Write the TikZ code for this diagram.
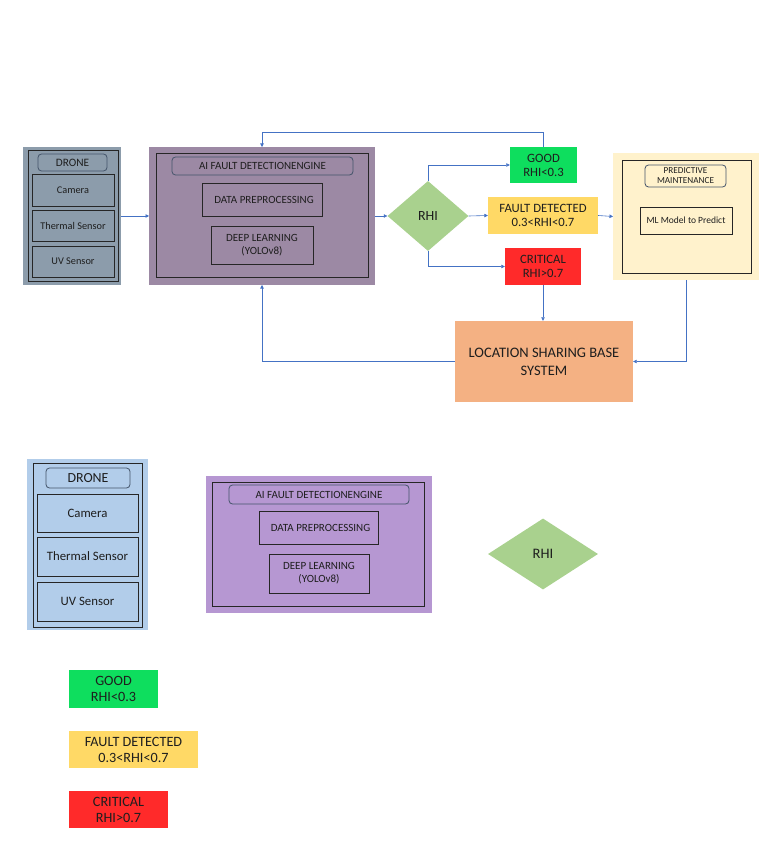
\documentclass[tikz,border=0pt]{standalone}
\usepackage{fontspec}
\setmainfont{Carlito}
\usetikzlibrary{shapes.geometric,arrows.meta}
\definecolor{txt}{HTML}{1E1E1E}
\definecolor{droneT}{RGB}{140,156,171}
\definecolor{aiT}{RGB}{156,137,164}
\definecolor{droneB}{RGB}{178,205,234}
\definecolor{aiB}{RGB}{182,151,210}
\definecolor{rhig}{HTML}{A9D18E}
\definecolor{goodg}{RGB}{14,222,94}
\definecolor{faulty}{HTML}{FFD966}
\definecolor{critr}{RGB}{255,42,42}
\definecolor{pmy}{HTML}{FFF2CC}
\definecolor{loco}{HTML}{F4B183}
\definecolor{arr}{HTML}{4472C4}
\definecolor{lblb}{HTML}{44546A}
\tikzset{
  panel/.style={draw=none, inner sep=0pt, outer sep=0pt},
  inbox/.style={draw=black!85, line width=0.9pt, inner sep=0pt, outer sep=0pt, align=center, text=txt},
  rlabel/.style={draw=lblb, line width=0.8pt, rounded corners=3.5pt, inner sep=0pt, align=center, text=txt},
  sbox/.style={draw=none, inner sep=0pt, align=center, text=txt},
  conn/.style={draw=arr, line width=0.6pt, -{Triangle[length=3.5pt,width=3.5pt]}},
}
\begin{document}
\begin{tikzpicture}[x=1pt,y=-1pt]
\useasboundingbox (0,0) rectangle (768,866);
% ===== top drone =====
\node[panel, fill=droneT, minimum width=98, minimum height=138] (dTo) at (72,216) {};
\node[inbox, minimum width=90, minimum height=131] (dTi) at (73,215.5) {};
\node[rlabel, minimum width=69, minimum height=17, font=\fontsize{11.3}{12}\selectfont] (dTl) at (72.5,162.5) {DRONE};
\node[inbox, minimum width=82, minimum height=32, font=\fontsize{10.3}{11}\selectfont] (dTc) at (73,190) {Camera};
\node[inbox, minimum width=82, minimum height=31, font=\fontsize{10.3}{11}\selectfont] (dTt) at (73,225.5) {Thermal Sensor};
\node[inbox, minimum width=82, minimum height=31, font=\fontsize{10.3}{11}\selectfont] (dTu) at (73,261.5) {UV Sensor};
% ===== top AI =====
\node[panel, fill=aiT, minimum width=226, minimum height=138] (aTo) at (262,216) {};
\node[inbox, minimum width=212, minimum height=124] (aTi) at (262,215) {};
\node[rlabel, minimum width=181, minimum height=18, font=\fontsize{11}{12}\selectfont] (aTl) at (262.5,166) {AI FAULT DETECTIONENGINE};
\node[inbox, minimum width=120, minimum height=33, font=\fontsize{11}{12}\selectfont] (aTd) at (262,199.5) {\hspace{4pt}DATA PREPROCESSING};
\node[inbox, minimum width=102, minimum height=38, font=\fontsize{11}{13}\selectfont] (aTl2) at (262,245) {DEEP LEARNING\\(YOLOv8)};
% ===== RHI top =====
\node[diamond, fill=rhig, draw=none, inner sep=0pt, minimum width=81, minimum height=70, text=txt, font=\fontsize{14}{15}\selectfont] (rT) at (428,216) {RHI};
\node[sbox, fill=goodg, minimum width=67, minimum height=36, font=\fontsize{12.7}{14}\selectfont] (gT) at (543.5,165) {GOOD\\RHI<0.3};
\node[sbox, fill=faulty, minimum width=110, minimum height=37, font=\fontsize{12.7}{14}\selectfont] (fT) at (543,215.5) {FAULT DETECTED\\0.3<RHI<0.7};
\node[sbox, fill=critr, minimum width=76, minimum height=37, font=\fontsize{12.7}{14}\selectfont] (cT) at (543,266.5) {CRITICAL\\RHI>0.7};
% ===== predictive maintenance =====
\node[panel, fill=pmy, minimum width=146, minimum height=127] (pTo) at (686,216.5) {};
\node[inbox, minimum width=129, minimum height=113] (pTi) at (686.5,216.5) {};
\node[rlabel, minimum width=81, minimum height=22, font=\fontsize{9.2}{10}\selectfont] (pTl) at (685.5,176) {PREDICTIVE\\MAINTENANCE};
\node[inbox, minimum width=92, minimum height=27, font=\fontsize{9.5}{10}\selectfont] (pTm) at (686,220.5) {ML Model to Predict};
% ===== location =====
\node[sbox, fill=loco, minimum width=178, minimum height=81, font=\fontsize{14.5}{18}\selectfont] (lT) at (544,361.5) {LOCATION SHARING BASE\\SYSTEM};
% ===== connectors =====
\draw[conn] (dTo.east) -- (aTo.west);
\draw[conn] (aTo.east) -- (rT.west);
\draw[conn] (rT.north) |- (gT.west);
\draw[conn] (rT.east) -- (fT.west);
\draw[conn] (rT.south) |- (cT.west);
\draw[conn] (fT.east) -- (pTo.west);
\coordinate (gUp) at (543.5,132);
\draw[conn] (gT.north) -- (gUp) -| (aTo.north);
\draw[conn] (cT.south) -- (cT.south |- lT.north);
\draw[conn] (pTo.south) |- (lT.east);
\draw[conn] (lT.west) -| (aTo.south);
% ===== bottom drone =====
\node[panel, fill=droneB, minimum width=121, minimum height=171] (dBo) at (87.5,544.5) {};
\node[inbox, minimum width=109, minimum height=164] (dBi) at (87.5,545) {};
\node[rlabel, minimum width=84, minimum height=20, font=\fontsize{13.9}{14}\selectfont] (dBl) at (88,478) {DRONE};
\node[inbox, minimum width=101, minimum height=38, font=\fontsize{12.8}{14}\selectfont] (dBc) at (87.5,513) {Camera};
\node[inbox, minimum width=101, minimum height=39, font=\fontsize{12.8}{14}\selectfont] (dBt) at (87.5,556.5) {Thermal Sensor};
\node[inbox, minimum width=101, minimum height=39, font=\fontsize{12.8}{14}\selectfont] (dBu) at (87.5,601.5) {UV Sensor};
% ===== bottom AI =====
\node[panel, fill=aiB, minimum width=226, minimum height=137] (aBo) at (319,544.5) {};
\node[inbox, minimum width=212, minimum height=124] (aBi) at (318,544) {};
\node[rlabel, minimum width=180, minimum height=19, font=\fontsize{11}{12}\selectfont] (aBl) at (319,494.5) {AI FAULT DETECTIONENGINE};
\node[inbox, minimum width=119, minimum height=33, font=\fontsize{11}{12}\selectfont] (aBd) at (318.5,527.5) {\hspace{4pt}DATA PREPROCESSING};
\node[inbox, minimum width=100, minimum height=39, font=\fontsize{11}{13}\selectfont] (aBl2) at (319,573.5) {DEEP LEARNING\\(YOLOv8)};
% ===== RHI bottom =====
\node[diamond, fill=rhig, draw=none, inner sep=0pt, minimum width=110, minimum height=71, text=txt, font=\fontsize{14.5}{15}\selectfont] (rB) at (543,554) {RHI};
% ===== legend =====
\node[sbox, fill=goodg, minimum width=89, minimum height=38, font=\fontsize{14.2}{16}\selectfont] (gB) at (113.5,689) {GOOD\\RHI<0.3};
\node[sbox, fill=faulty, minimum width=129, minimum height=37, font=\fontsize{14.2}{16}\selectfont] (fB) at (133.5,749.5) {FAULT DETECTED\\0.3<RHI<0.7};
\node[sbox, fill=critr, minimum width=99, minimum height=37, font=\fontsize{14.2}{16}\selectfont] (cB) at (118.5,809.5) {CRITICAL\\RHI>0.7};
\end{tikzpicture}
\end{document}
